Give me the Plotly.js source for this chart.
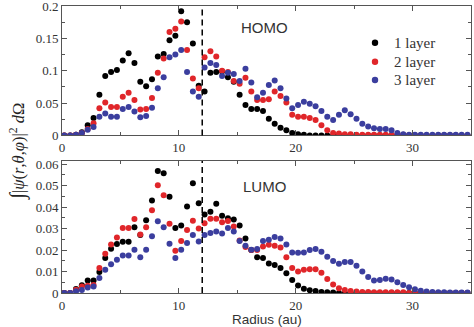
<!DOCTYPE html>
<html>
<head>
<meta charset="utf-8">
<script src="https://cdn.plot.ly/plotly-3.0.1.min.js"></script>
<style>html,body{margin:0;padding:0;background:#fff;}#chart{width:474px;height:327px;}</style>
</head>
<body>
<div id="chart"></div>
<script>
// Radius (au)
const radius = [0.2,0.7,1.2,1.7,2.2,2.7,3.2,3.7,4.2,4.7,5.2,5.7,6.2,6.7,7.2,7.7,8.2,8.7,9.2,9.7,
  10.2,10.7,11.2,11.7,12.2,12.7,13.2,13.7,14.2,14.7,15.2,15.7,16.2,16.7,17.2,17.7,18.2,18.7,19.2,19.7,
  20.2,20.7,21.2,21.7,22.2,22.7,23.2,23.7,24.2,24.7,25.2,25.7,26.2,26.7,27.2,27.7,28.2,28.7,29.2,29.7,
  30.2,30.7,31.2,31.7,32.2,32.7,33.2,33.7,34.2,34.7];

const seriesNames = ["1 layer", "2 layer", "3 layer"];

// HOMO
const homo1 = [0,0,0.001,0.005,0.016,0.027,0.063,0.092,0.098,0.101,0.116,0.127,0.112,0.083,0.076,0.087,0.122,0.126,0.147,0.154,
  0.192,0.175,0.142,0.077,0.068,0.097,0.098,0.099,0.090,0.083,0.063,0.047,0.041,0.041,0.038,0.026,0.018,0.012,0.008,0.004,
  0.002,0.001,0,0,0,0,0,0,0,0,0,0,0,0,0,0,0,0,0,0,0,0,0,0,0,0,0,0,0,0];
const homo2 = [0,0,0.001,0.004,0.010,0.019,0.042,0.051,0.044,0.044,0.060,0.066,0.055,0.040,0.041,0.058,0.097,0.119,0.160,0.165,
  0.176,0.132,0.088,0.073,0.121,0.130,0.122,0.100,0.098,0.084,0.080,0.089,0.068,0.055,0.055,0.056,0.068,0.061,0.051,0.032,
  0.029,0.029,0.027,0.024,0.016,0.008,0.004,0.003,0.002,0.002,0.001,0.001,0.001,0.001,0.001,0.001,0.001,0.001,0.001,0,
  0,0,0,0,0,0,0,0,0,0];
const homo3 = [0,0,0.001,0.004,0.009,0.013,0.029,0.034,0.029,0.029,0.041,0.044,0.037,0.028,0.030,0.043,0.073,0.090,0.121,0.125,
  0.132,0.098,0.068,0.060,0.105,0.112,0.109,0.092,0.097,0.095,0.084,0.103,0.082,0.059,0.066,0.078,0.085,0.073,0.057,0.042,
  0.047,0.052,0.049,0.045,0.038,0.029,0.024,0.032,0.039,0.033,0.026,0.018,0.014,0.011,0.010,0.010,0.008,0.004,0.002,0.001,
  0.001,0.001,0.001,0.001,0.001,0.001,0.001,0.001,0.001,0.001];

// LUMO
const lumo1 = [0,0,0.0019,0.0036,0.0058,0.0058,0.0098,0.0163,0.0206,0.0228,0.0239,0.0239,0.0306,0.0270,0.0339,0.0431,0.0569,0.0558,0.0448,0.0303,
  0.0314,0.0403,0.0511,0.0418,0.0366,0.0378,0.0416,0.0360,0.0348,0.0342,0.0314,0.0254,0.0200,0.0167,0.0163,0.0138,0.0131,0.0116,0.0092,0.0060,
  0.0035,0.0020,0.0013,0.0009,0.0005,0.0003,0.0002,0,0,0,0,0,0,0,0,0,0,0,0,0,0,0,0,0,0,0,0,0,0,0];
const lumo2 = [0,0,0.0015,0.0030,0.0034,0.0037,0.0116,0.0183,0.0226,0.0259,0.0303,0.0303,0.0345,0.0272,0.0306,0.0386,0.0502,0.0456,0.0323,0.0197,
  0.0242,0.0294,0.0337,0.0300,0.0325,0.0346,0.0346,0.0330,0.0335,0.0310,0.0245,0.0214,0.0200,0.0200,0.0217,0.0225,0.0220,0.0212,0.0166,0.0116,
  0.0100,0.0108,0.0111,0.0111,0.0094,0.0065,0.0040,0.0022,0.0014,0.0009,0.0007,0.0005,0.0005,0.0003,0.0003,0.0003,0.0003,0.0003,0.0003,0,
  0,0,0,0,0,0,0,0,0,0];
const lumo3 = [0,0,0.0008,0.0014,0.0026,0.0030,0.0070,0.0108,0.0134,0.0155,0.0175,0.0175,0.0202,0.0166,0.0202,0.0264,0.0334,0.0306,0.0230,0.0163,
  0.0202,0.0233,0.0270,0.0240,0.0270,0.0280,0.0287,0.0277,0.0303,0.0287,0.0242,0.0220,0.0202,0.0205,0.0242,0.0248,0.0261,0.0254,0.0226,0.0189,
  0.0187,0.0189,0.0200,0.0205,0.0192,0.0169,0.0149,0.0136,0.0144,0.0144,0.0127,0.0100,0.0074,0.0058,0.0061,0.0066,0.0063,0.0050,0.0037,0.0027,
  0.0017,0.0011,0.0007,0.0005,0.0004,0.0003,0.0002,0.0002,0.0002,0.0002];

const xTickVals = [0, 10, 20, 30];
const homoTickVals = [0, 0.05, 0.1, 0.15, 0.2];
const homoTickText = ["0", "0.05", "0.1", "0.15", "0.2"];
const lumoTickVals = [0, 0.01, 0.02, 0.03, 0.04, 0.05, 0.06];
const dashedRadius = 12;

const colors = ["#000000", "#e0262a", "#3b3e9e"];
const homo = [homo1, homo2, homo3];
const lumo = [lumo1, lumo2, lumo3];

const traces = [];
homo.forEach((ys, k) => traces.push({
  x: radius, y: ys, type: "scatter", mode: "markers", name: seriesNames[k], legendgroup: seriesNames[k],
  marker: {color: colors[k], size: 6}, xaxis: "x", yaxis: "y", showlegend: false
}));
lumo.forEach((ys, k) => traces.push({
  x: radius, y: ys, type: "scatter", mode: "markers", name: seriesNames[k], legendgroup: seriesNames[k],
  marker: {color: colors[k], size: 6}, xaxis: "x2", yaxis: "y2", showlegend: false
}));

const tickFont = {family: "Liberation Serif", size: 13, color: "#333"};
const axisCommon = {
  showgrid: false, zeroline: false, showline: true, linecolor: "#555", linewidth: 1,
  mirror: "allticks", ticks: "inside", ticklen: 5, tickcolor: "#555", tickwidth: 1,
  tickfont: tickFont, ticklabeloverflow: "allow"
};

// legend (symbols + labels) placed in paper coordinates
const legendX = 0.7653, legendTextX = 0.8064;
const legendY = [0.8721, 0.8059, 0.7422];
const legendShapes = seriesNames.map((n, k) => ({
  type: "circle", xref: "paper", yref: "paper", xsizemode: "pixel", ysizemode: "pixel",
  xanchor: legendX, yanchor: legendY[k], x0: -3.2, x1: 3.2, y0: -3.2, y1: 3.2,
  fillcolor: colors[k], line: {width: 0}
}));
const legendTexts = seriesNames.map((n, k) => ({
  text: n, xref: "paper", yref: "paper", x: legendTextX, y: legendY[k], xanchor: "left", yanchor: "middle",
  showarrow: false, font: {family: "Liberation Serif", size: 15, color: "#333"}
}));

const layout = {
  width: 474, height: 327,
  margin: {l: 62, r: 3, t: 6, b: 34},
  paper_bgcolor: "#fff", plot_bgcolor: "#fff",
  showlegend: false,
  xaxis: Object.assign({}, axisCommon, {domain: [0, 1], range: [0, 35], tickvals: xTickVals, anchor: "y",
    minor: {ticks: "inside", ticklen: 3, dtick: 5, tick0: 0, tickcolor: "#555"}}),
  yaxis: Object.assign({}, axisCommon, {domain: [0.5488, 1], range: [0, 0.2], tickvals: homoTickVals,
    ticktext: homoTickText, tickmode: "array", anchor: "x",
    minor: {ticks: "inside", ticklen: 3, dtick: 0.025, tick0: 0, tickcolor: "#555"}}),
  xaxis2: Object.assign({}, axisCommon, {domain: [0, 1], range: [0, 35], tickvals: xTickVals, anchor: "y2",
    minor: {ticks: "inside", ticklen: 3, dtick: 5, tick0: 0, tickcolor: "#555"}}),
  yaxis2: Object.assign({}, axisCommon, {domain: [0, 0.4599], range: [0, 0.0615], tickvals: lumoTickVals, anchor: "x2",
    minor: {ticks: "inside", ticklen: 3, dtick: 0.005, tick0: 0, tickcolor: "#555"}}),
  shapes: [
    {type: "line", xref: "x", yref: "y domain", x0: dashedRadius, x1: dashedRadius, y0: 0, y1: 1,
      line: {color: "#000", width: 1.5, dash: "6px,4px"}},
    {type: "line", xref: "x2", yref: "y2 domain", x0: dashedRadius, x1: dashedRadius, y0: 0, y1: 1,
      line: {color: "#000", width: 1.5, dash: "6px,4px"}}
  ].concat(legendShapes),
  annotations: [
    {text: "HOMO", xref: "x", yref: "y", x: 17.3, y: 0.167, showarrow: false,
      font: {family: "Liberation Sans", size: 15, color: "#333"}},
    {text: "LUMO", xref: "x2", yref: "y2", x: 17.3, y: 0.0495, showarrow: false,
      font: {family: "Liberation Sans", size: 15, color: "#333"}},
    {text: "Radius (au)", xref: "paper", yref: "paper", x: 0.5, y: -0.0906, yanchor: "middle",
      showarrow: false, font: {family: "Liberation Sans", size: 13.5, color: "#333"}},
    {text: "<span style='font-size:21px'>∫</span>|<i>ψ</i>(<i>r</i>,<i>θ</i>,<i>φ</i>)|<sup>2</sup> <i>d</i>Ω",
      xref: "paper", yref: "paper", x: -0.108, y: 0.4913, xanchor: "center", yanchor: "middle",
      textangle: -90, showarrow: false, font: {family: "Liberation Serif", size: 16.5, color: "#222"}}
  ].concat(legendTexts)
};

Plotly.newPlot("chart", traces, layout, {displayModeBar: false, staticPlot: true});
</script>
</body>
</html>
